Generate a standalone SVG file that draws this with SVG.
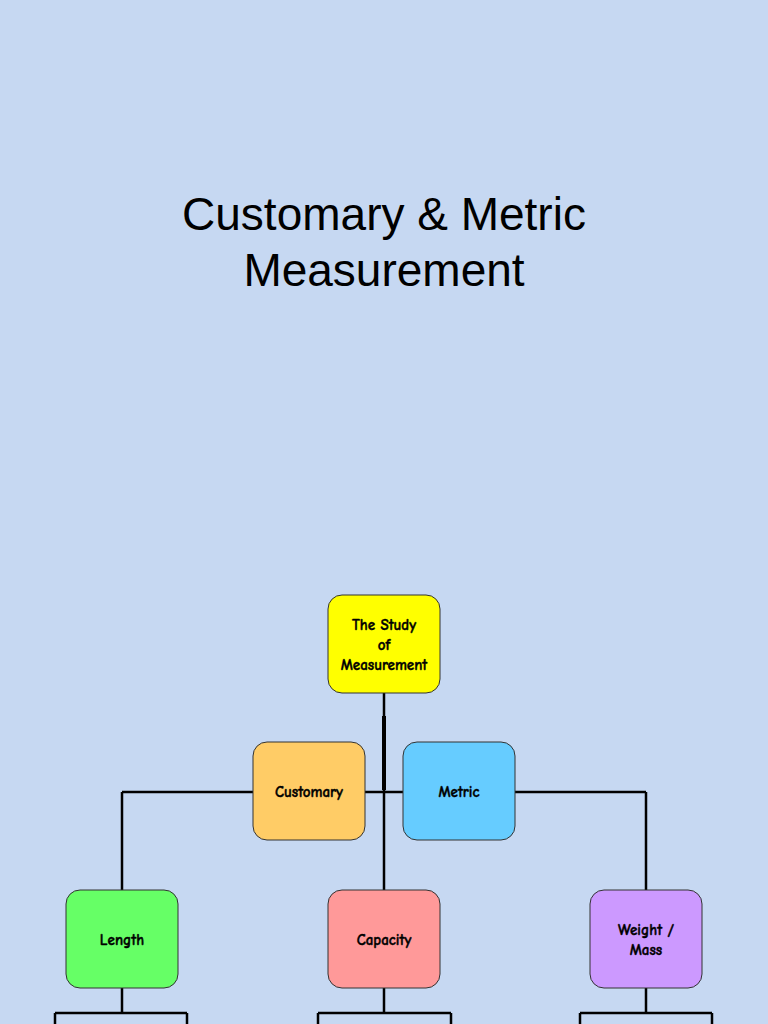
<svg xmlns="http://www.w3.org/2000/svg" width="768" height="1024" viewBox="0 0 768 1024">
<style>
.n{stroke:#333;stroke-width:1}
.t{font-family:"Comic Neue","DejaVu Sans",sans-serif;font-weight:bold;font-size:15px;text-anchor:middle;fill:#000;stroke:#000;stroke-width:0.4}
.c{fill:none;stroke:#000;stroke-width:2.5}
</style>
<rect width="768" height="1024" fill="#c6d8f2"/>
<text x="384" y="230" font-family="Liberation Sans,sans-serif" font-size="46" text-anchor="middle">Customary &amp; Metric</text>
<text x="384" y="286" font-family="Liberation Sans,sans-serif" font-size="46" text-anchor="middle">Measurement</text>
<g id="connectors">
<path class="c" d="M384 693V890M122 792H646M122 792V890M646 792V890"/>
<path fill="none" stroke="#000" stroke-width="4" d="M384 716V790"/>
<path class="c" d="M122 988V1013M55 1013H187M55 1013V1024M187 1013V1024"/>
<path class="c" d="M384 988V1013M318 1013H451M318 1013V1024M451 1013V1024"/>
<path class="c" d="M646 988V1013M580 1013H712M580 1013V1024M712 1013V1024"/>
</g>
<g id="study"><rect class="n" x="328" y="595" width="112" height="98" rx="14" fill="#ffff00"/><text class="t" x="384" y="630">The Study</text><text class="t" x="384" y="650">of</text><text class="t" x="384" y="670">Measurement</text></g>
<g id="customary"><rect class="n" x="253" y="742" width="112" height="98" rx="14" fill="#ffcc66"/><text class="t" x="309" y="797">Customary</text></g>
<g id="metric"><rect class="n" x="403" y="742" width="112" height="98" rx="14" fill="#66ccff"/><text class="t" x="459" y="797">Metric</text></g>
<g id="length"><rect class="n" x="66" y="890" width="112" height="98" rx="14" fill="#66ff66"/><text class="t" x="122" y="945">Length</text></g>
<g id="capacity"><rect class="n" x="328" y="890" width="112" height="98" rx="14" fill="#ff9999"/><text class="t" x="384" y="945">Capacity</text></g>
<g id="weight"><rect class="n" x="590" y="890" width="112" height="98" rx="14" fill="#cc99ff"/><text class="t" x="646" y="935">Weight /</text><text class="t" x="646" y="955">Mass</text></g>
</svg>
